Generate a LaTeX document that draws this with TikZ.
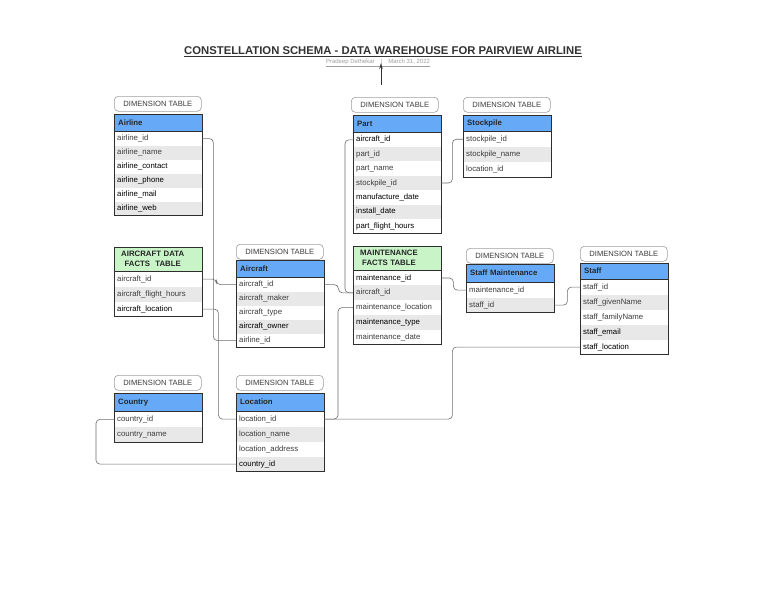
\documentclass[tikz,border=0pt]{standalone}
\usepackage{fontspec}
\setmainfont{Liberation Sans}
\usetikzlibrary{calc,arrows.meta}
\definecolor{hblue}{HTML}{66AAF7}
\definecolor{hgreen}{HTML}{C8F4C8}
\definecolor{rgray}{HTML}{E8E8E8}
\definecolor{bdr}{HTML}{2E2E2E}
\definecolor{lnk}{HTML}{6E6E6E}
\definecolor{txt}{HTML}{3C3C3C}
\newcommand\dk[1]{{\color{black}#1}}
\tikzset{
 hdr/.style={font=\fontsize{7.8}{10}\selectfont\bfseries, text width=80pt, inner xsep=4pt, inner ysep=0pt, align=left, anchor=north west, text=black!85},
 rowbox/.style={font=\fontsize{7.8}{9}\selectfont, text width=82pt, inner xsep=3pt, inner ysep=0pt, align=left, anchor=north west, text=txt},
 lbl/.style={draw=gray!75, line width=0.6pt, rounded corners=4pt, minimum width=87pt, minimum height=15pt, inner sep=0pt, anchor=north west, font=\fontsize{7.6}{9}\selectfont, text=txt},
 link/.style={draw=lnk, line width=0.6pt, rounded corners=4pt},
 frame/.style={draw=bdr, line width=0.9pt},
}
% #1 id, #2 x, #3 y, #4 header height, #5 row height, #6 header fill, #7 header text, #8 rows
\newcommand\dbtable[8]{%
 \node[hdr, fill=#6, minimum height=#4pt] (#1-h) at (#2,#3) {#7};
 \foreach [count=\i] \rtxt/\rfill in {#8} {
   \node[rowbox, fill=\rfill, minimum height=#5pt] (#1-\i) at ($(#1-h.south west)+(0,{(\i-1)*#5})$) {\rtxt};
   \xdef\lastrow{\i}
 }
 \draw[frame] (#1-h.north west) rectangle (#1-\lastrow.south east);
 \draw[frame] (#1-h.south west) -- (#1-h.south east);
}
\newcommand\twoline[2]{\hspace*{3pt}\begin{tabular}{@{}c@{}}#1\\#2\end{tabular}}
\begin{document}
\begin{tikzpicture}[x=1pt,y=-1pt]
\useasboundingbox[fill=white] (0,0) rectangle (768,594);

% title
\node[font=\fontsize{11.3}{13}\selectfont\bfseries, text=black!80, inner sep=0pt] (title) at (383,52) {\underline{CONSTELLATION SCHEMA - DATA WAREHOUSE FOR PAIRVIEW AIRLINE}};
\node[font=\fontsize{6}{7}\selectfont, text=gray!75, inner sep=0pt] (sub) at (378,63) {\underline{Pradeep Dethekar\quad|\quad March 31, 2022}};
\coordinate (arrA) at (381,85);
\coordinate (arrB) at (381,63);
\draw[-{Stealth[length=6pt,width=3.5pt]}, line width=0.8pt, black!80] (arrA) -- (arrB);

% labels
\node[lbl] (airline-l) at (114,96) {DIMENSION TABLE};
\node[lbl] (part-l) at (351,97) {DIMENSION TABLE};
\node[lbl] (stock-l) at (463,97) {DIMENSION TABLE};
\node[lbl] (aircraft-l) at (236,244) {DIMENSION TABLE};
\node[lbl] (smt-l) at (466,248) {DIMENSION TABLE};
\node[lbl] (staff-l) at (580,246) {DIMENSION TABLE};
\node[lbl] (country-l) at (114,375) {DIMENSION TABLE};
\node[lbl] (location-l) at (236,375) {DIMENSION TABLE};

% tables
\dbtable{airline}{114}{114}{17}{14}{hblue}{Airline}{airline\_id/white, airline\_name/rgray, \dk{airline\_contact}/white, \dk{airline\_phone}/rgray, \dk{airline\_mail}/white, \dk{airline\_web}/rgray}
\dbtable{part}{353}{115}{17}{14.4}{hblue}{Part}{\dk{aircraft\_id}/white, part\_id/rgray, part\_name/white, stockpile\_id/rgray, \dk{manufacture\_date}/white, \dk{install\_date}/rgray, \dk{part\_flight\_hours}/white}
\dbtable{stock}{463}{115}{16}{15.3}{hblue}{Stockpile}{stockpile\_id/white, stockpile\_name/rgray, location\_id/white}
\dbtable{acdata}{114}{247}{24}{15}{hgreen}{\twoline{AIRCRAFT DATA}{FACTS\ \ TABLE}}{aircraft\_id/white, aircraft\_flight\_hours/rgray, \dk{aircraft\_location}/white}
\dbtable{aircraft}{236}{260}{17}{14}{hblue}{Aircraft}{aircraft\_id/white, aircraft\_maker/rgray, aircraft\_type/white, \dk{aircraft\_owner}/rgray, airline\_id/white}
\dbtable{maint}{353}{246}{24}{14.8}{hgreen}{\twoline{MAINTENANCE}{FACTS TABLE}}{\dk{maintenance\_id}/white, aircraft\_id/rgray, maintenance\_location/white, \dk{maintenance\_type}/rgray, maintenance\_date/white}
\dbtable{smt}{466}{264}{18}{15}{hblue}{Staff Maintenance}{maintenance\_id/white, staff\_id/rgray}
\dbtable{staff}{580}{263}{16}{15}{hblue}{Staff}{staff\_id/white, staff\_givenName/rgray, staff\_familyName/white, \dk{staff\_email}/rgray, \dk{staff\_location}/white}
\dbtable{country}{114}{393}{18}{15.5}{hblue}{Country}{country\_id/white, country\_name/rgray}
\dbtable{location}{236}{393}{18}{15}{hblue}{Location}{location\_id/white, location\_name/rgray, location\_address/white, \dk{country\_id}/rgray}

% connectors
\draw[link] (airline-1.east) -- ++(11,0) |- (aircraft-5.west);
\draw[link] (acdata-1.east) -- ++(14,0) |- (aircraft-1.west);
\draw[link] (acdata-3.east) -- ++(16,0) |- (location-1.west);
\draw[link] (aircraft-1.east) -- ++(14,0) |- (maint-2.west);
\draw[link] (part-1.west) -- ++(-8,0) |- (maint-2.west);
\draw[link] (maint-3.west) -- ++(-15,0) |- (location-1.east);
\draw[link] (staff-5.west) -| ([xshift=128pt]location-1.east) -- (location-1.east);
\draw[link] (maint-1.east) -- ++(12,0) |- (smt-1.west);
\draw[link] (smt-2.east) -- ++(13,0) |- (staff-1.west);
\draw[link] (part-4.east) -- ++(11,0) |- (stock-1.west);
\draw[link] (country-1.west) -- ++(-18,0) |- (location-4.west);
\end{tikzpicture}
\end{document}
